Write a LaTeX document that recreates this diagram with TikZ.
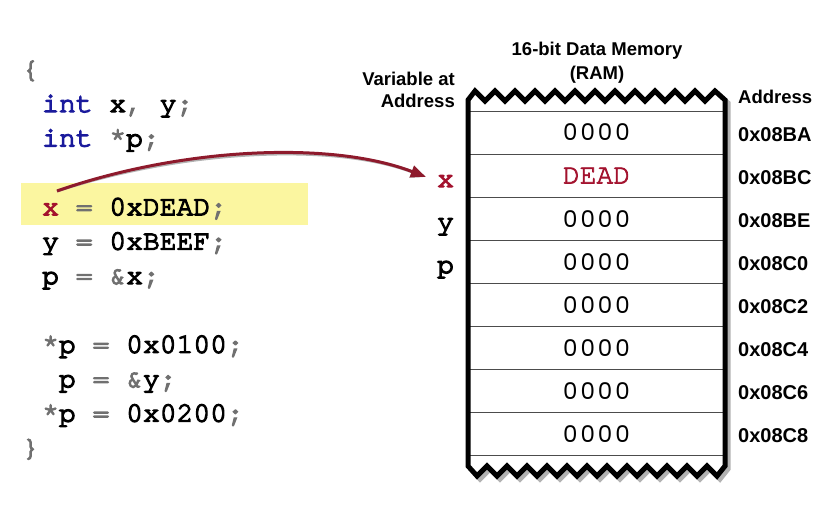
\documentclass[tikz,border=0pt]{standalone}
\usepackage{fontspec}
\usetikzlibrary{arrows.meta}
\setmainfont{Liberation Sans}
\newfontfamily\codefont[FakeBold=4.5]{TeX Gyre Cursor}
\newfontfamily\cellfont[FakeBold=2.5]{TeX Gyre Cursor}
\newfontfamily\zerofont{Poppins}
\definecolor{kwblue}{HTML}{1A1A9C}
\definecolor{darkred}{HTML}{A3122E}
\definecolor{arrowred}{HTML}{8E1A2C}
\definecolor{punc}{HTML}{707070}
\definecolor{hl}{HTML}{FBF6A0}
\newcommand\cpn[1]{\textcolor{punc}{#1}}
\newcommand\zz{0\hspace{3pt}0\hspace{3pt}0\hspace{3pt}0}
\newcommand\memoutline{(468,100) \foreach \k in {0,...,11}{ -- ({475+20*\k},91) -- ({485+20*\k},101)} -- (715,91) -- (725,100) -- (725,466) -- (717,476) \foreach \k in {11,...,0}{ -- ({487+20*\k},466) -- ({477+20*\k},476)} -- (468,466) -- cycle}
\begin{document}
\begin{tikzpicture}[x=1pt,y=-1pt,
  code/.style={anchor=base west, inner sep=0pt, font=\codefont\fontsize{28}{28}\selectfont},
  lab/.style={anchor=base west, inner sep=0pt, font=\cellfont\fontsize{28}{28}\selectfont},
  head/.style={inner sep=0pt, font=\bfseries\fontsize{18.5}{20}\selectfont},
  addr/.style={anchor=west, inner sep=0pt, font=\bfseries\fontsize{20}{22}\selectfont},
  cell/.style={inner sep=0pt, font=\zerofont\fontsize{23}{23}\selectfont},
  sep/.style={draw=black!70, line width=1pt},
  border/.style={line width=5pt, line join=miter}]
\useasboundingbox (0,0) rectangle (840,506);
% highlight
\fill[hl] (21,183) rectangle (308,225);
% code
\node[code] (l0) at (22,77.6) {\cpn{\{}};
\node[code] (l1) at (42,112) {\textcolor{kwblue}{int} x\cpn{,} y\cpn{;}};
\node[code] (l2) at (42,146.4) {\textcolor{kwblue}{int} \cpn{*}p\cpn{;}};
\node[code] (l3) at (42,215.2) {\textcolor{darkred}{x} \cpn{=} 0xDEAD\cpn{;}};
\node[code] (l4) at (42,249.6) {y \cpn{=} 0xBEEF\cpn{;}};
\node[code] (l5) at (42,284) {p \cpn{=} \cpn{\&}x\cpn{;}};
\node[code] (l6) at (42,352.8) {\cpn{*}p \cpn{=} 0x0100\cpn{;}};
\node[code] (l7) at (42,387.2) {\phantom{*}p \cpn{=} \cpn{\&}y\cpn{;}};
\node[code] (l8) at (42,421.6) {\cpn{*}p \cpn{=} 0x0200\cpn{;}};
\node[code] (l9) at (22,456) {\cpn{\}}};
% memory box
\draw[border, gray!60, xshift=3pt, yshift=-3pt] \memoutline;
\fill[white] \memoutline;
\foreach \i in {0,...,8} \draw[sep] (468,{111+43.05*\i}) -- (725,{111+43.05*\i});
\draw[border] \memoutline;
% cells
\node[cell] (c0) at (596.5,132.5) {\zz};
\node[lab, anchor=center, text=darkred] (c1) at (596.5,175.6) {DEAD};
\foreach \i in {2,...,7} \node[cell] (c\i) at (596.5,{132.5+43.05*\i}) {\zz};
% headers
\node[head, anchor=base] (title1) at (597,55) {16-bit Data Memory};
\node[head, anchor=base] (title2) at (597,79) {(RAM)};
\node[head, anchor=base east] (var1) at (455,85) {Variable at};
\node[head, anchor=base east] (var2) at (455,107) {Address};
\node[head, anchor=base west] (addrh) at (738,103) {Address};
% addresses
\node[addr] (a0) at (738,134.5) {0x08BA};
\node[addr] (a1) at (738,177.5) {0x08BC};
\node[addr] (a2) at (738,220.6) {0x08BE};
\node[addr] (a3) at (738,263.6) {0x08C0};
\node[addr] (a4) at (738,306.7) {0x08C2};
\node[addr] (a5) at (738,349.8) {0x08C4};
\node[addr] (a6) at (738,392.8) {0x08C6};
\node[addr] (a7) at (738,435.9) {0x08C8};
% variable labels
\node[code, text=darkred] (vx) at (437,187) {x};
\node[code] (vy) at (437,230) {y};
\node[code] (vp) at (437,273) {p};
% arrow
\coordinate (src) at (57,191);
\draw[gray!60, line width=3pt, -{Triangle[length=15pt,width=12pt]}, shorten >=12pt, xshift=2pt, yshift=-2pt] (src) .. controls (180,148) and (330,140) .. (vx.west);
\draw[arrowred, line width=3pt, -{Triangle[length=15pt,width=12pt]}, shorten >=12pt] (src) .. controls (180,148) and (330,140) .. (vx.west);
\end{tikzpicture}
\end{document}
